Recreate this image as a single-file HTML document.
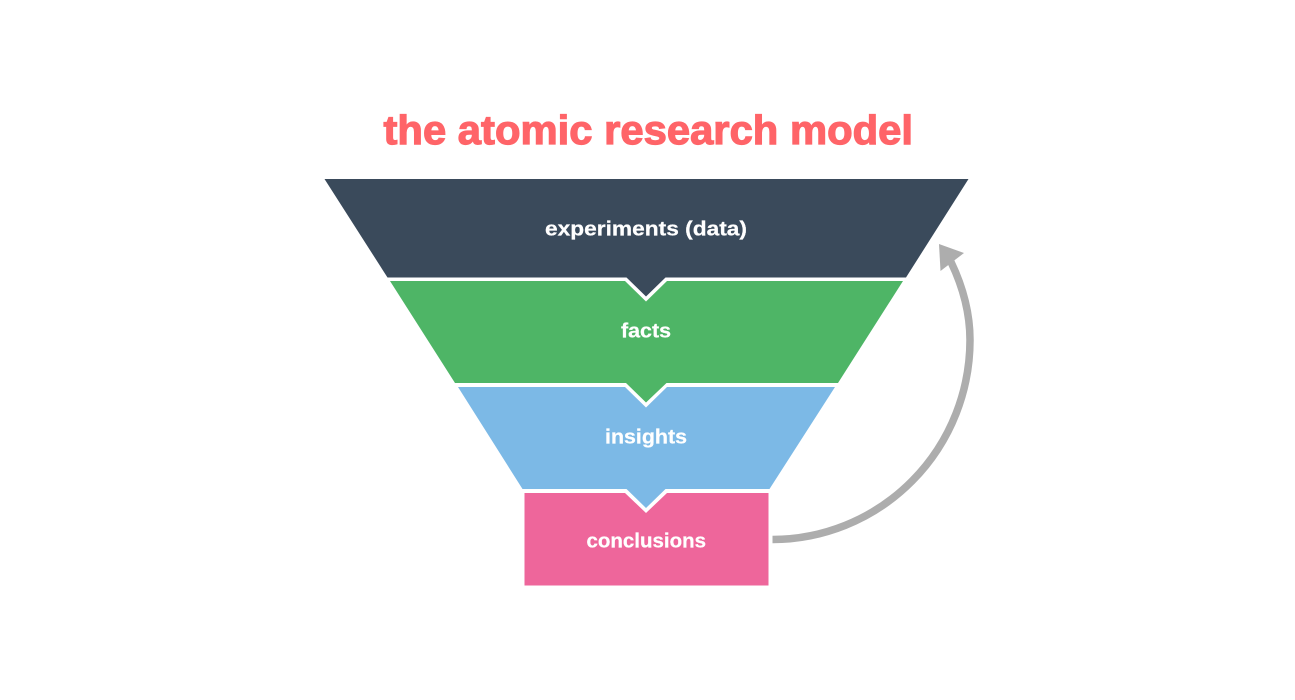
<!DOCTYPE html>
<html>
<head>
<meta charset="utf-8">
<style>
html,body{margin:0;padding:0;background:#fff;width:1295px;height:700px;overflow:hidden}
svg{display:block}
text{font-family:"Liberation Sans",sans-serif;font-weight:700;text-anchor:start}
</style>
</head>
<body>
<svg width="1295" height="700" viewBox="0 0 1295 700" xmlns="http://www.w3.org/2000/svg">
<text x="383.5" y="144" font-size="41" fill="#ff6468" textLength="529.5" lengthAdjust="spacingAndGlyphs" stroke="#ff6468" stroke-width="1.2">the atomic research model</text>
<polygon points="324.5,179 968.5,179 906,277.5 665.5,277.5 646,296.5 626.5,277.5 387.5,277.5" fill="#3a4a5b"/>
<polygon points="390,281 625,281 646,301.5 667,281 903,281 838,383 666.5,383 646,402.5 626,383 455,383" fill="#4eb566"/>
<polygon points="458,387 625,387 646,407.5 667,387 835,387 769.5,489 665.5,489 646,508 626.5,489 522.5,489" fill="#7cb9e6"/>
<polygon points="524.5,493 625,493 646,513 667,493 768.5,493 768.5,585.5 524.5,585.5" fill="#ee669b"/>
<text x="545" y="235.5" font-size="20.5" fill="#fff" textLength="202" lengthAdjust="spacingAndGlyphs" stroke="#fff" stroke-width="0.25">experiments (data)</text>
<text x="621" y="337.5" font-size="20.5" fill="#fff" textLength="50" lengthAdjust="spacingAndGlyphs" stroke="#fff" stroke-width="0.25">facts</text>
<text x="605" y="443.5" font-size="20.5" fill="#fff" textLength="82" lengthAdjust="spacingAndGlyphs" stroke="#fff" stroke-width="0.25">insights</text>
<text x="586.5" y="547.5" font-size="20.5" fill="#fff" textLength="119.5" lengthAdjust="spacingAndGlyphs" stroke="#fff" stroke-width="0.25">conclusions</text>
<path d="M772.5,539.5 A198,199.5 0 0 0 970,340 C970,312 962,285 951,262" fill="none" stroke="#adadad" stroke-width="7.5"/>
<polygon points="939,244 964,253 940.5,271" fill="#adadad"/>
</svg>
</body>
</html>
